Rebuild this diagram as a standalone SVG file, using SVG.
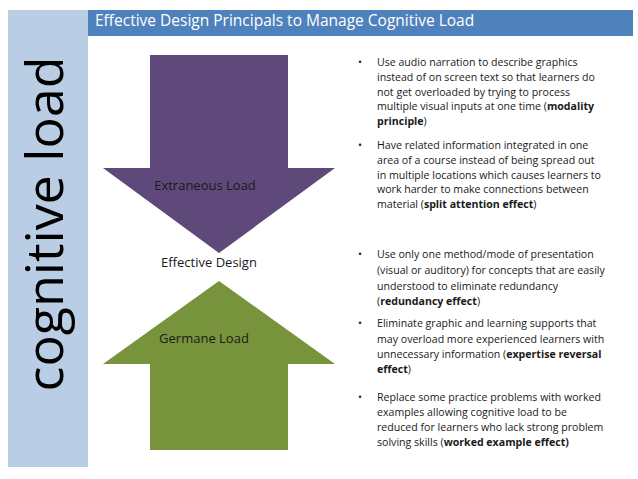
<svg xmlns="http://www.w3.org/2000/svg" width="638" height="479" viewBox="0 0 638 479">
<style>
text{font-family:"Open Sans","Liberation Sans",sans-serif;fill:#1a1a1a}
.b{font-size:10.6px}
.lbl{font-size:13px}
.k{font-weight:bold}
</style>
<rect width="638" height="479" fill="#fff"/>
<rect x="8" y="10" width="80" height="457" fill="#B9CDE5"/>
<rect x="88" y="10" width="545" height="26" fill="#4F81BD"/>
<text x="95" y="26" style="font-size:15.5px;fill:#fff">Effective Design Principals to Manage Cognitive Load</text>
<text transform="translate(63,224) rotate(-90)" text-anchor="middle" style="font-size:52px;fill:#000">cognitive load</text>
<g id="extraneous">
<polygon points="150,55 288,55 288,168 335,168 219,253 103,168 150,168" fill="#5F497A"/>
<text class="lbl" x="205" y="190" text-anchor="middle">Extraneous Load</text>
</g>
<g id="effective"><text class="lbl" x="209" y="267" text-anchor="middle">Effective Design</text></g>
<g id="germane">
<polygon points="219,281 335,364 288,364 288,450 150,450 150,364 103,364" fill="#77933C"/>
<text class="lbl" x="204" y="343" text-anchor="middle">Germane Load</text>
</g>
<g id="connectors"></g>
<g class="b">
<text x="358" y="66">•</text>
<text x="377" y="66">Use audio narration to describe graphics</text>
<text x="377" y="81">instead of on screen text so that learners do</text>
<text x="377" y="95.5">not get overloaded by trying to process</text>
<text x="377" y="110">multiple visual inputs at one time (<tspan class="k">modality</tspan></text>
<text x="377" y="125"><tspan class="k">principle</tspan>)</text>
<text x="358" y="149">•</text>
<text x="377" y="149">Have related information integrated in one</text>
<text x="377" y="164">area of a course instead of being spread out</text>
<text x="377" y="178.5">in multiple locations which causes learners to</text>
<text x="377" y="193">work harder to make connections between</text>
<text x="377" y="208">material (<tspan class="k">split attention effect</tspan>)</text>
<text x="358" y="258">•</text>
<text x="377" y="258">Use only one method/mode  of presentation</text>
<text x="377" y="274">(visual or auditory) for concepts that are easily</text>
<text x="377" y="290">understood to eliminate redundancy</text>
<text x="377" y="305">(<tspan class="k">redundancy effect</tspan>)</text>
<text x="358" y="327">•</text>
<text x="377" y="327">Eliminate graphic and learning supports that</text>
<text x="377" y="343">may overload more experienced learners with</text>
<text x="377" y="358">unnecessary information (<tspan class="k">expertise reversal</tspan></text>
<text x="377" y="373"><tspan class="k">effect</tspan>)</text>
<text x="358" y="401">•</text>
<text x="377" y="401">Replace some practice problems with worked</text>
<text x="377" y="416">examples allowing cognitive load to be</text>
<text x="377" y="431">reduced for learners who lack strong problem</text>
<text x="377" y="446">solving skills (<tspan class="k">worked example effect)</tspan></text>
</g>
</svg>
